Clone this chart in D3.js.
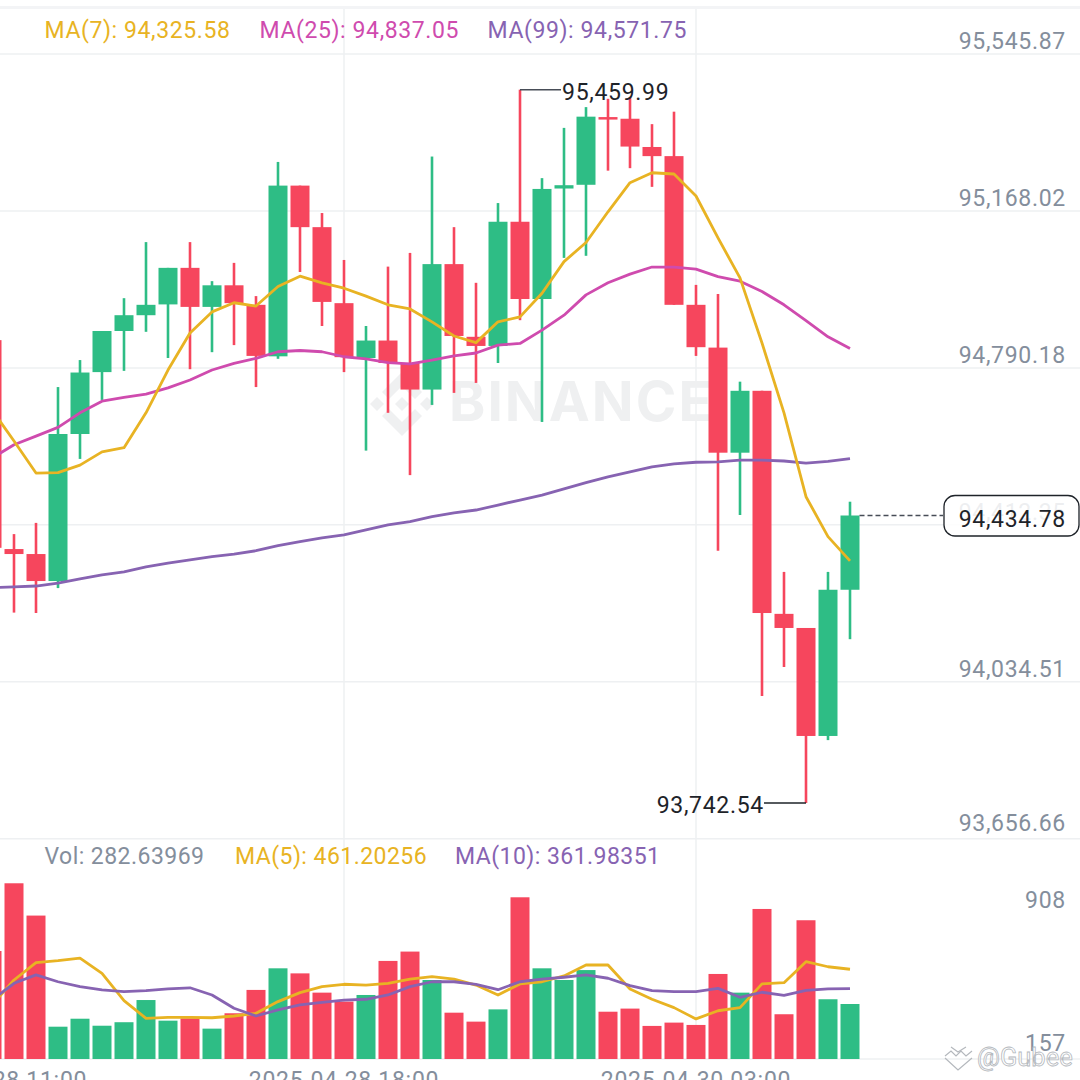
<!DOCTYPE html>
<html lang="en">
<head>
    <meta charset="UTF-8">
    <title>BTC candlestick chart</title>
    <script src="https://d3js.org/d3.v7.min.js"></script>
    <style>
        html, body { margin: 0; padding: 0; background: #fff; overflow: hidden; }
        text { font-family: Roboto, sans-serif; font-size: 23px; letter-spacing: 0.7px; }
    </style>
</head>
<body>

<div id="chart"></div>

<script>
    // Values, one entry per candle
    const opens = [94857,94354,94342,94277,94631,94780,94879,94917,94943,95031,94937,94989,94942,94818,95229,95129,94946,94814,94856,94802,94738,95040,94865,94843,95142,94956,95222,95231,95394,95390,95322,95300,94942,94839,94586,94735,94198,94164,93904,94256];
    const highs = [94857,94390,94417,94744,94809,94879,94958,95093,95031,95093,94999,95043,94963,95286,95229,95163,95050,94891,95034,95067,95299,95129,94995,95187,95459.99,95247,95368,95418,95438,95442,95377,95407,94990,94968,94757,94735,94299,94164,94299,94468];
    const lows = [94357,94201,94200,94260,94571,94713,94783,94877,94814,94787,94828,94845,94744,94812,95021,94891,94780,94591,94682,94532,94701,94730,94754,94802,94905,94660,95055,95060,95265,95271,95226,94942,94819,94350,94436,94000,94070,93742.54,93894,94137];
    const closes = [94357,94342,94277,94631,94779,94879,94917,94942,95031,94937,94989,94946,94819,95229,95129,94949,94816,94856,94802,94738,95040,94867,94843,95142,94956,95221,95230,95395,95388,95323,95300,94942,94840,94586,94735,94200,94164,93904,94256,94434.78];

    const ma7 = [94689,94614,94537,94538,94556,94588,94598,94682,94785,94874,94925,94947,94939,94986,95011,94995,94982,94963,94942,94932,94901,94867,94851,94901,94913,94970,95046,95092,95166,95236,95260,95257,95204,95103,95007,94850,94682,94480,94384,94325.58];
    const ma25 = [94573,94605,94626,94647,94682,94710,94719,94727,94742,94761,94785,94801,94813,94829,94832,94829,94817,94812,94803,94800,94809,94819,94826,94845,94849,94881,94917,94966,94995,95016,95033,95033,95028,95010,94999,94974,94942,94904,94865,94837.05];
    const ma99 = [94261,94263,94265,94272,94282,94292,94299,94311,94320,94328,94336,94342,94350,94362,94372,94381,94388,94400,94412,94420,94432,94441,94448,94460,94472,94484,94499,94514,94528,94540,94552,94559,94563,94564,94568,94568,94566,94561,94565,94571.75];

    const volumes = [555,903,737,166,207,171,189,303,197,209,156,235,355,466,440,341,295,329,504,552,406,238,192,255,831,466,406,457,243,259,170,187,175,437,341,771,230,713,307,282.63969];
    const volMa5 = [278,406,495,505,518,440,300,209,214,214,212,221,235,295,341,372,384,380,389,410,423,410,380,329,386,397,427,483,483,360,307,264,206,248,264,386,392,500,474,461.20256];
    const volMa10 = [303,389,432,397,372,355,346,351,360,366,329,261,221,252,278,291,303,307,329,372,397,397,384,356,397,410,420,432,415,377,351,346,346,363,317,343,327,353,360,361.98351];

    const priceTicks = [95545.87, 95168.02, 94790.18, 94412.35, 94034.51, 93656.66];
    const volTicks = [908, 157];
    const timeTicks = [0, 16, 32];
    const timeLabels = ["2025-04-28 11:00", "2025-04-28 18:00", "2025-04-30 03:00"];

    const width = 1080;
    const height = 1080;
    const green = "#2EBD85";
    const red = "#F6465D";
    const yellow = "#E8B323";
    const magenta = "#CF4BAE";
    const purple = "#8763B2";
    const grey = "#848E9C";
    const gridColor = "#EEF0F2";
    const dark = "#1E2329";

    const candles = opens.map((o, i) => ({ i, open: o, high: highs[i], low: lows[i], close: closes[i], vol: volumes[i] }));

    // Scales
    const x = d3.scaleLinear().domain([0, 39]).range([-8, 850]);
    const y = d3.scaleLinear().domain([93656.66, 95545.87]).range([838.7, 54]);
    const yVol = d3.scaleLinear().domain([0, 1000]).range([1059, 864.4]);
    const yVolAxis = d3.scaleLinear().domain([157, 908]).range([1059, 916]);

    const fmt = d3.format(",.2f");
    const bodyWidth = 19;
    const lineWidth = 2.8;

    const svg = d3.select("#chart")
        .append("svg")
        .attr("width", width)
        .attr("height", height)
        .style("display", "block");

    // Top band
    svg.append("rect").attr("x", 0).attr("y", 6).attr("width", width).attr("height", 3).attr("fill", "#F3F4F6");

    // Grid
    svg.selectAll(".vgrid")
        .data(timeTicks)
        .enter()
        .append("line")
        .attr("x1", d => x(d)).attr("x2", d => x(d))
        .attr("y1", 9).attr("y2", 1059)
        .attr("stroke", gridColor).attr("stroke-width", 1.5);

    svg.selectAll(".hgrid")
        .data(priceTicks)
        .enter()
        .append("line")
        .attr("x1", 0).attr("x2", width)
        .attr("y1", d => y(d)).attr("y2", d => y(d))
        .attr("stroke", gridColor).attr("stroke-width", 1.5);

    svg.append("line")
        .attr("x1", 0).attr("x2", width)
        .attr("y1", yVol(0)).attr("y2", yVol(0))
        .attr("stroke", gridColor).attr("stroke-width", 1.5);

    // BINANCE watermark
    const mark = svg.append("g").attr("fill", "#EFF0F1");
    mark.append("g")
        .attr("transform", "translate(402,404)")
        .selectAll("path")
        .data([
            "M0,-7 L7,0 L0,7 L-7,0 Z",
            "M-25,-7 L-18,0 L-25,7 L-32,0 Z",
            "M25,-7 L32,0 L25,7 L18,0 Z",
            "M0,-32 L20,-12 L13,-5 L0,-18 L-13,-5 L-20,-12 Z",
            "M0,32 L20,12 L13,5 L0,18 L-13,5 L-20,12 Z"
        ])
        .enter()
        .append("path")
        .attr("d", d => d);
    mark.append("text")
        .attr("x", 449).attr("y", 421)
        .style("font-size", "55px").style("font-weight", 700).style("letter-spacing", "2px")
        .style("font-family", "Inter, sans-serif")
        .text("BINANCE");

    // Wicks
    svg.selectAll(".wick")
        .data(candles)
        .enter()
        .append("line")
        .attr("x1", d => x(d.i)).attr("x2", d => x(d.i))
        .attr("y1", d => y(d.high)).attr("y2", d => y(d.low))
        .attr("stroke", d => d.close >= d.open ? green : red)
        .attr("stroke-width", 2.6);

    // Bodies
    svg.selectAll(".body")
        .data(candles)
        .enter()
        .append("rect")
        .attr("x", d => x(d.i) - bodyWidth / 2)
        .attr("width", bodyWidth)
        .attr("y", d => y(Math.max(d.open, d.close)))
        .attr("height", d => Math.abs(y(d.open) - y(d.close)))
        .attr("fill", d => d.close >= d.open ? green : red);

    // Price moving averages
    const priceLine = d3.line().x((d, i) => x(i)).y(d => y(d));
    [[ma99, purple], [ma25, magenta], [ma7, yellow]].forEach(([values, color]) => {
        svg.append("path")
            .attr("d", priceLine(values))
            .attr("fill", "none")
            .attr("stroke", color)
            .attr("stroke-width", lineWidth)
            .attr("stroke-linejoin", "round");
    });

    // Volume bars
    svg.selectAll(".vol")
        .data(candles)
        .enter()
        .append("rect")
        .attr("x", d => x(d.i) - bodyWidth / 2)
        .attr("width", bodyWidth)
        .attr("y", d => yVol(d.vol))
        .attr("height", d => yVol(0) - yVol(d.vol))
        .attr("fill", d => d.close >= d.open ? green : red);

    const volLine = d3.line().x((d, i) => x(i)).y(d => yVol(d));
    [[volMa5, yellow], [volMa10, purple]].forEach(([values, color]) => {
        svg.append("path")
            .attr("d", volLine(values))
            .attr("fill", "none")
            .attr("stroke", color)
            .attr("stroke-width", lineWidth)
            .attr("stroke-linejoin", "round");
    });

    // Right axis labels, the lowest one sits a little higher above its line
    svg.selectAll(".ptick")
        .data(priceTicks)
        .enter()
        .append("text")
        .attr("x", 1066)
        .attr("y", d => y(d) - (d === d3.min(priceTicks) ? 8 : 5))
        .attr("text-anchor", "end")
        .attr("fill", grey)
        .text(d => fmt(d));

    svg.selectAll(".vtick")
        .data(volTicks)
        .enter()
        .append("text")
        .attr("x", 1066)
        .attr("y", d => yVolAxis(d) - 8)
        .attr("text-anchor", "end")
        .attr("fill", grey)
        .text(d => d);

    // Time labels, cut off by the bottom edge
    svg.selectAll(".ttick")
        .data(timeTicks)
        .enter()
        .append("text")
        .attr("x", d => x(d))
        .attr("y", 1088)
        .attr("text-anchor", "middle")
        .attr("fill", grey)
        .text((d, i) => timeLabels[i]);

    // Legends
    const legend = [
        [44.5, 38, yellow, "MA(7): " + fmt(ma7[39]), 0.6],
        [259.5, 38, magenta, "MA(25): " + fmt(ma25[39]), 0.6],
        [487.5, 38, purple, "MA(99): " + fmt(ma99[39]), 0.6],
        [44.5, 864, grey, "Vol: " + volumes[39].toFixed(5), 0.45],
        [235, 864, yellow, "MA(5): " + volMa5[39].toFixed(5), 0.45],
        [455, 864, purple, "MA(10): " + volMa10[39].toFixed(5), 0.45]
    ];
    svg.selectAll(".legend")
        .data(legend)
        .enter()
        .append("text")
        .attr("x", d => d[0]).attr("y", d => d[1])
        .attr("fill", d => d[2])
        .style("letter-spacing", d => d[4] + "px")
        .text(d => d[3]);

    // High and low callouts
    const highAt = highs.indexOf(d3.max(highs));
    const lowAt = lows.indexOf(d3.min(lows));
    svg.append("line")
        .attr("x1", x(highAt)).attr("x2", x(highAt) + 41)
        .attr("y1", y(highs[highAt])).attr("y2", y(highs[highAt]))
        .attr("stroke", "#474D57").attr("stroke-width", 1.5);
    svg.append("text")
        .attr("x", x(highAt) + 42).attr("y", y(highs[highAt]) + 10)
        .attr("fill", dark)
        .text(fmt(highs[highAt]));
    svg.append("line")
        .attr("x1", x(lowAt)).attr("x2", x(lowAt) - 42)
        .attr("y1", y(lows[lowAt])).attr("y2", y(lows[lowAt]))
        .attr("stroke", dark).attr("stroke-width", 1.5);
    svg.append("text")
        .attr("x", x(lowAt) - 42).attr("y", y(lows[lowAt]) + 10)
        .attr("text-anchor", "end")
        .attr("fill", dark)
        .text(fmt(lows[lowAt]));

    // Last price tag
    const last = closes[39];
    svg.append("line")
        .attr("x1", x(39) + bodyWidth / 2).attr("x2", 943)
        .attr("y1", y(last)).attr("y2", y(last))
        .attr("stroke", "#474D57").attr("stroke-width", 1.5).attr("stroke-dasharray", "5,3");
    svg.append("rect")
        .attr("x", 944).attr("y", 495.5).attr("width", 135).attr("height", 40.5).attr("rx", 11)
        .attr("fill", "#fff").attr("fill-opacity", 0.85)
        .attr("stroke", dark).attr("stroke-width", 1.3);
    svg.append("text")
        .attr("x", 1066).attr("y", 527)
        .attr("text-anchor", "end")
        .attr("fill", dark)
        .text(fmt(last));

    // Gubee watermark
    const gubee = svg.append("g").attr("fill", "none").attr("stroke", "#B4B8BD").attr("stroke-width", 1.2);
    gubee.selectAll("path")
        .data([
            "M945,1056 L951,1051 L956,1056 L961,1051 L966,1056 L972,1051",
            "M951,1047 L958,1052 L966,1047",
            "M945,1058 L958,1070 L972,1058"
        ])
        .enter()
        .append("path")
        .attr("d", d => d);
    svg.append("text")
        .attr("x", 977).attr("y", 1066)
        .attr("fill", "#fff").attr("stroke", "#B4B8BD").attr("stroke-width", 0.8)
        .style("font-size", "25.5px").style("letter-spacing", "0")
        .text("@Gubee");
</script>

</body>
</html>
